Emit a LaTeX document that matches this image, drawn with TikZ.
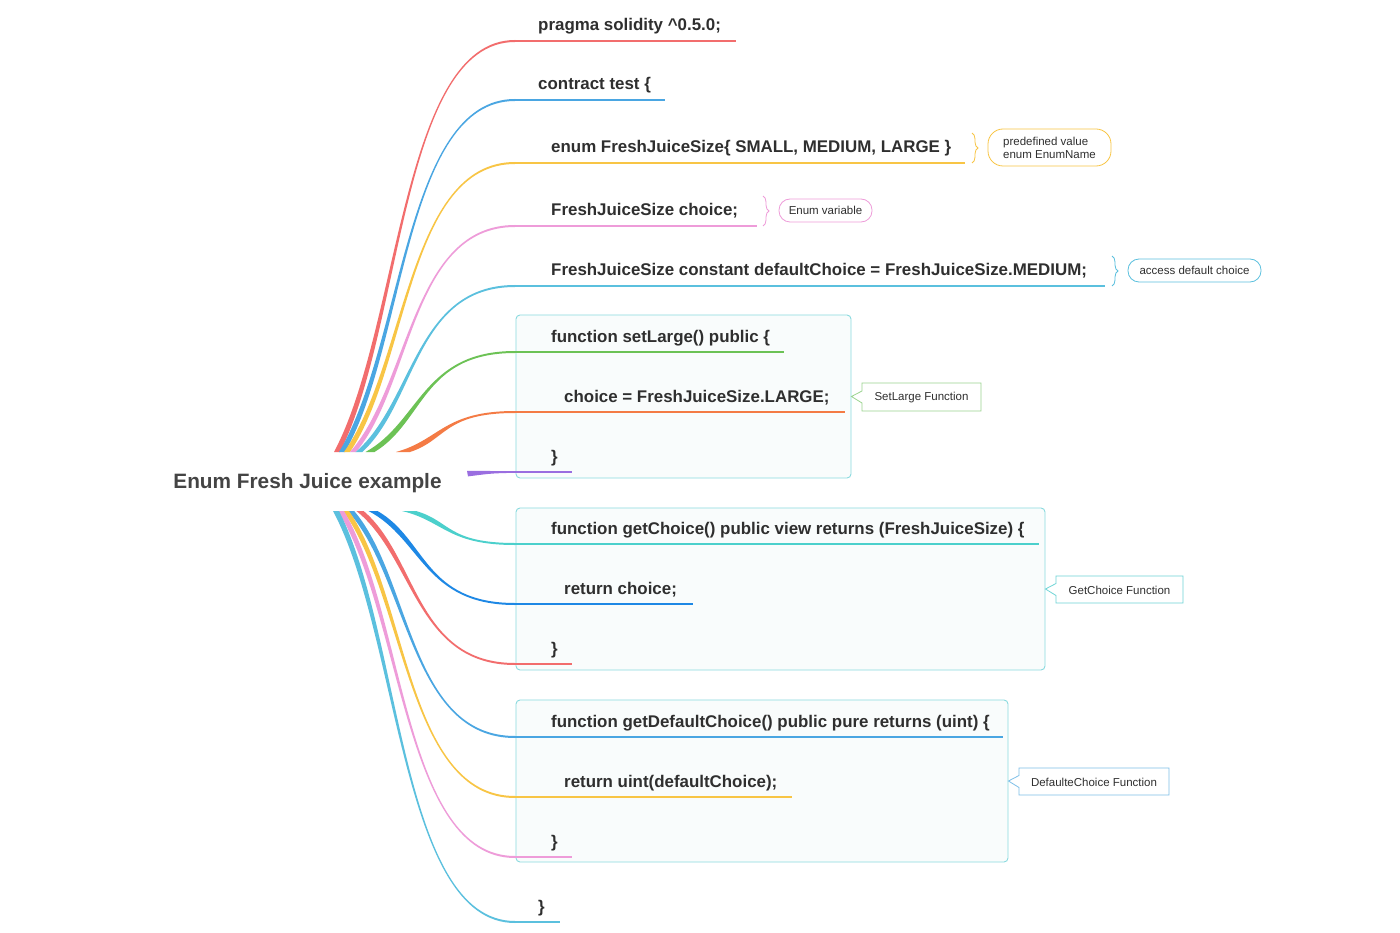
\documentclass[tikz,border=0pt]{standalone}
\usepackage{fontspec}
\setmainfont{Liberation Sans}
\usetikzlibrary{calc,decorations.pathreplacing}
\definecolor{cRed}{HTML}{F26D6D}
\definecolor{cBlue}{HTML}{4AA6E2}
\definecolor{cYellow}{HTML}{F8C545}
\definecolor{cPink}{HTML}{EE9CD9}
\definecolor{cLBlue}{HTML}{5BC0DE}
\definecolor{cGreen}{HTML}{6CC255}
\definecolor{cOrange}{HTML}{F47B45}
\definecolor{cPurple}{HTML}{9A6EE0}
\definecolor{cTeal}{HTML}{4CD0CC}
\definecolor{cDBlue}{HTML}{1E88E5}
\definecolor{txt}{HTML}{2F2F2F}
\definecolor{boxline}{HTML}{8ADADF}
\definecolor{boxfill}{HTML}{F9FCFC}
\definecolor{cGreenL}{HTML}{9AD48E}
\definecolor{cTealL}{HTML}{6ED4D6}
\definecolor{cBlueL}{HTML}{7DBFE8}
\newcommand\branch[5]{%
  \fill[#1] let \p1=(#2), \p2=(#3), \n1={\x2-\x1}, \n2={\y2-\y1}, \n3={sign(\n2)} in
    ({\x1-#5pt},\y1) .. controls ({\x1+0.36*\n1-0.5*#5},{\y1+0.3*\n2}) and ({\x1+0.36*\n1},{\y2+1.0*\n3}) .. (\x2,{\y2+1.0*\n3})
    -- (\x2,{\y2-1.0*\n3}) .. controls ({\x1+0.36*\n1},{\y2-1.0*\n3}) and ({\x1+0.36*\n1+0.5*#5},{\y1+0.3*\n2}) .. ({\x1+#5pt},\y1) -- cycle;
  \draw[#1,line width=1.6pt] (#3) -- (#4);
}
\tikzset{
  code/.style={anchor=base west, inner sep=0pt, text=txt, font=\fontsize{16.9}{20}\selectfont\bfseries},
  rootnode/.style={inner sep=0pt, text=txt!90!white, font=\fontsize{20.8}{24}\selectfont\bfseries},
  fnbox/.style={draw=boxline, fill=boxfill, rounded corners=4pt, line width=0.9pt, inner sep=0pt},
  pill/.style={draw, rounded corners=11pt, line width=0.8pt, inner sep=0pt, text=txt, font=\fontsize{11.5}{14}\selectfont},
  lbl/.style={inner sep=0pt, text=txt, font=\fontsize{11.5}{14}\selectfont},
  note/.style={line width=0.8pt},
  bracestyle/.style={decorate, decoration={brace, amplitude=6pt}, line width=0.8pt}
}
\begin{document}
\begin{tikzpicture}[x=1pt,y=-1pt]
\useasboundingbox[fill=white] (0,0) rectangle (1400,933);
% function boxes
\node[fnbox, minimum width=335pt, minimum height=163pt] (box1) at (683.5,396.5) {};
\node[fnbox, minimum width=529pt, minimum height=162pt] (box2) at (780.5,589) {};
\node[fnbox, minimum width=492pt, minimum height=162pt] (box3) at (762,781) {};
% root
\node[rootnode] (root) at (307.5,483.5) {Enum Fresh Juice example};
% start coordinates
\coordinate (s1) at (337,452);
\coordinate (s2) at (342,452);
\coordinate (s3) at (347,452);
\coordinate (s4) at (353,452);
\coordinate (s5) at (359,452);
\coordinate (s6) at (370,452);
\coordinate (s7) at (403,452);
\coordinate (s9) at (409,511);
\coordinate (s10) at (373,511);
\coordinate (s11) at (360,511);
\coordinate (s12) at (351,511);
\coordinate (s13) at (346,511);
\coordinate (s14) at (341,511);
\coordinate (s15) at (336,511);
% end coordinates
\coordinate (e1) at (515,41);   \coordinate (f1) at (736,41);
\coordinate (e2) at (515,100);  \coordinate (f2) at (665,100);
\coordinate (e3) at (515,163);  \coordinate (f3) at (965,163);
\coordinate (e4) at (515,226);  \coordinate (f4) at (757,226);
\coordinate (e5) at (515,286);  \coordinate (f5) at (1105,286);
\coordinate (e6) at (515,352);  \coordinate (f6) at (784,352);
\coordinate (e7) at (515,412);  \coordinate (f7) at (845,412);
\coordinate (e8) at (515,472);  \coordinate (f8) at (572,472);
\coordinate (e9) at (515,544);  \coordinate (f9) at (1039,544);
\coordinate (e10) at (515,604); \coordinate (f10) at (693,604);
\coordinate (e11) at (515,664); \coordinate (f11) at (572,664);
\coordinate (e12) at (515,737); \coordinate (f12) at (1003,737);
\coordinate (e13) at (515,797); \coordinate (f13) at (792,797);
\coordinate (e14) at (515,857); \coordinate (f14) at (572,857);
\coordinate (e15) at (515,922); \coordinate (f15) at (560,922);
% branches
\branch{cRed}{s1}{e1}{f1}{3}
\branch{cBlue}{s2}{e2}{f2}{3}
\branch{cYellow}{s3}{e3}{f3}{3}
\branch{cPink}{s4}{e4}{f4}{3}
\branch{cLBlue}{s5}{e5}{f5}{3.3}
\branch{cGreen}{s6}{e6}{f6}{4.5}
\branch{cOrange}{s7}{e7}{f7}{7}
\coordinate (s8) at (467,473.5);
\fill[cPurple] (467,470.8) .. controls (490,471) .. (515,471.2) -- (515,472.8) .. controls (492,473.3) .. (468,476.4) -- cycle;
\draw[cPurple,line width=1.6pt] (e8) -- (f8);
\branch{cTeal}{s9}{e9}{f9}{7}
\branch{cDBlue}{s10}{e10}{f10}{4.5}
\branch{cRed}{s11}{e11}{f11}{3.6}
\branch{cBlue}{s12}{e12}{f12}{3.2}
\branch{cYellow}{s13}{e13}{f13}{3}
\branch{cPink}{s14}{e14}{f14}{3}
\branch{cLBlue}{s15}{e15}{f15}{3}
% texts
\node[code] (t1) at (538,31) {pragma solidity \textasciicircum0.5.0;};
\node[code] (t2) at (538,90) {contract test \{};
\node[code] (t3) at (551,153) {enum FreshJuiceSize\{ SMALL, MEDIUM, LARGE \}};
\node[code] (t4) at (551,216) {FreshJuiceSize choice;};
\node[code] (t5) at (551,276) {FreshJuiceSize constant defaultChoice = FreshJuiceSize.MEDIUM;};
\node[code] (t6) at (551,342) {function setLarge() public \{};
\node[code] (t7) at (564,402) {choice = FreshJuiceSize.LARGE;};
\node[code] (t8) at (551,462) {\}};
\node[code] (t9) at (551,534) {function getChoice() public view returns (FreshJuiceSize) \{};
\node[code] (t10) at (564,594) {return choice;};
\node[code] (t11) at (551,654) {\}};
\node[code] (t12) at (551,727) {function getDefaultChoice() public pure returns (uint) \{};
\node[code] (t13) at (564,787) {return uint(defaultChoice);};
\node[code] (t14) at (551,847) {\}};
\node[code] (t15) at (538,912) {\}};
% braces and pill notes
\draw[bracestyle, cYellow] (972,133) -- (972,163);
\node[pill, draw=cYellow, minimum width=123pt, minimum height=37pt, align=left, rounded corners=15pt] (n3) at (1049.5,147.5) {predefined value\\[-1pt]enum EnumName};
\draw[bracestyle, cPink] (763,196) -- (763,226);
\node[pill, draw=cPink, minimum width=93pt, minimum height=23pt] (n4) at (825.5,210.5) {Enum variable};
\draw[bracestyle, cLBlue] (1112,256) -- (1112,286);
\node[pill, draw=cLBlue, minimum width=133pt, minimum height=23pt] (n5) at (1194.5,270.5) {access default choice};
% function callouts
\node[lbl] (c1) at (921.5,397.5) {SetLarge Function};
\draw[note, cGreenL] (862,383) -- (981,383) -- (981,411) -- (862,411) -- (862,403) -- (box1.east) -- (862,391) -- cycle;
\node[lbl] (c2) at (1119.5,590) {GetChoice Function};
\draw[note, cTealL] (1056,576) -- (1183,576) -- (1183,603) -- (1056,603) -- (1056,595.5) -- (box2.east) -- (1056,583.5) -- cycle;
\node[lbl] (c3) at (1094,782) {DefaulteChoice Function};
\draw[note, cBlueL] (1019,768) -- (1169,768) -- (1169,795) -- (1019,795) -- (1019,787.5) -- (box3.east) -- (1019,775.5) -- cycle;
\end{tikzpicture}
\end{document}
